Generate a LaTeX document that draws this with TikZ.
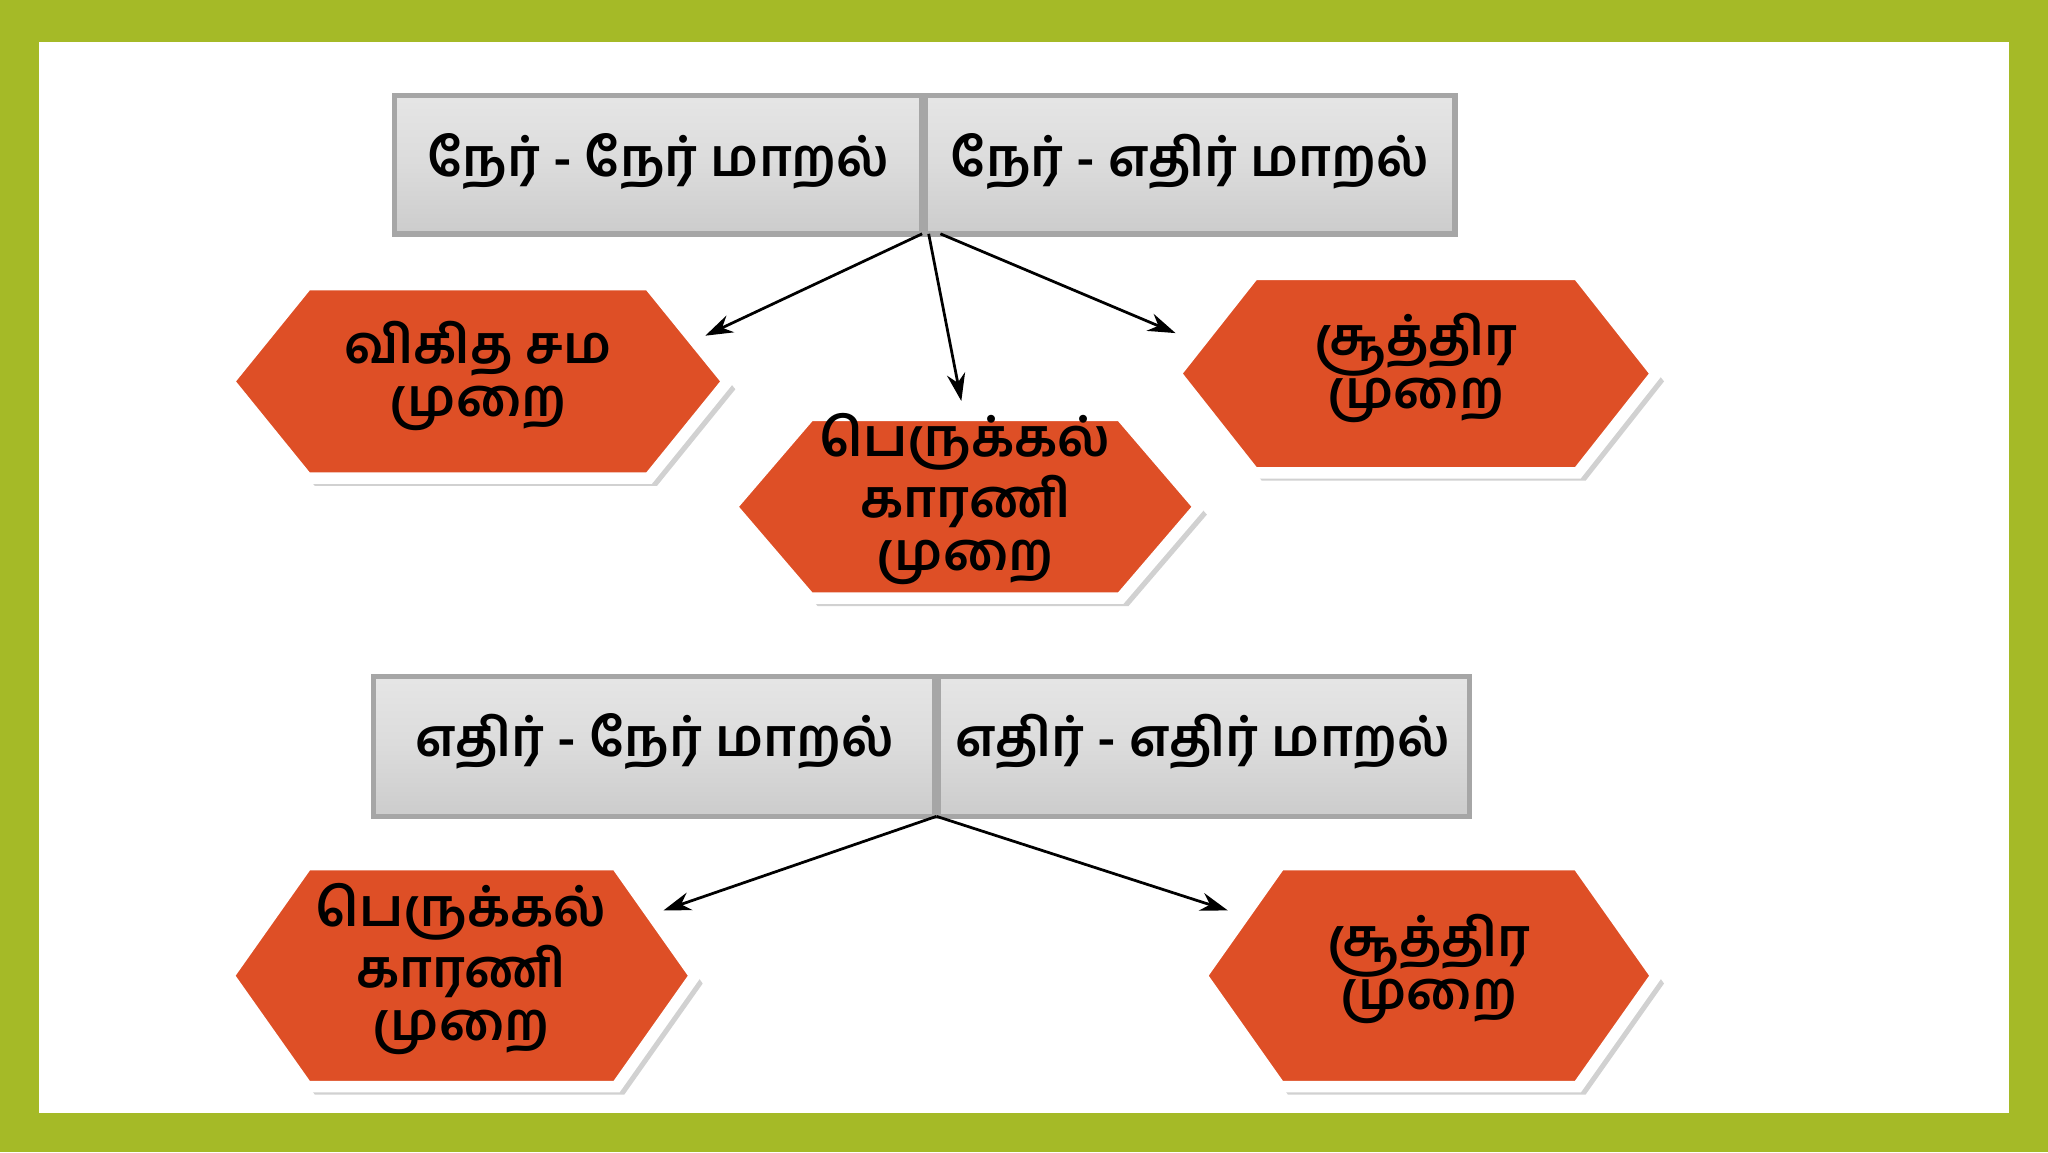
\documentclass[tikz,border=0pt]{standalone}
\usepackage{fontspec}
\newfontfamily\tam[Script=Tamil]{Hind Madurai}
\usetikzlibrary{arrows.meta}
\definecolor{frame}{HTML}{A5BA27}
\definecolor{hexor}{HTML}{DE4F26}
\tikzset{
  gbox/.style={draw=gray!70,line width=1.2pt,top color=gray!20,bottom color=gray!40,middle color=gray!28},
  hex/.style={fill=hexor,draw=white,line width=2.5pt},
  hsh/.style={fill=black,opacity=0.18},
  txt/.style={font=\tam\bfseries\fontsize{11.5}{11.5}\selectfont,align=center,inner sep=0pt},
  btxt/.style={font=\tam\bfseries\fontsize{11.5}{12}\selectfont,inner sep=0pt},
  arr/.style={-{Stealth[length=6pt,width=4pt]},line width=0.6pt}
}
\newcommand{\hexa}[5]{% name, x1, x2, ytop, ybot
  \pgfmathsetmacro{\ym}{(#4+#5)/2}
  \fill[hsh] (#2+0.06,-\ym-0.06) -- (#2+0.66,-#4-0.06) -- (#3-0.54,-#4-0.06) -- (#3+0.06,-\ym-0.06) -- (#3-0.54,-#5-0.06) -- (#2+0.66,-#5-0.06) -- cycle;
  \draw[hex] (#2,-\ym) -- (#2+0.6,-#4) -- (#3-0.6,-#4) -- (#3,-\ym) -- (#3-0.6,-#5) -- (#2+0.6,-#5) -- cycle;
}
\begin{document}
\begin{tikzpicture}[x=1cm,y=1cm]
\fill[frame] (0,0) rectangle (15.68,-8.82);
\fill[white] (0.30,-0.32) rectangle (15.38,-8.52);
% top boxes
\draw[gbox] (3.02,-0.73) rectangle (7.06,-1.79);
\draw[gbox] (7.08,-0.73) rectangle (11.14,-1.79);
\node[btxt] (b1) at (5.04,-1.24) {நேர் - நேர் மாறல்};
\node[btxt] (b2) at (9.11,-1.24) {நேர் - எதிர் மாறல்};
\coordinate (t1) at (7.06,-1.79);
\coordinate (t2) at (7.11,-1.79);
\coordinate (t3) at (7.20,-1.79);
% bottom boxes
\draw[gbox] (2.86,-5.18) rectangle (7.16,-6.25);
\draw[gbox] (7.18,-5.18) rectangle (11.25,-6.25);
\node[btxt] (b3) at (5.01,-5.68) {எதிர் - நேர் மாறல்};
\node[btxt] (b4) at (9.21,-5.68) {எதிர் - எதிர் மாறல்};
\coordinate (t4) at (7.17,-6.25);
% hexagons
\hexa{h1}{1.75}{5.57}{2.18}{3.66}
\hexa{h2}{5.60}{9.18}{3.18}{4.58}
\hexa{h3}{9.00}{12.68}{2.10}{3.62}
\hexa{h4}{1.75}{5.32}{6.62}{8.32}
\hexa{h5}{9.20}{12.68}{6.62}{8.32}
\node[txt] (n1) at (3.66,-2.88) {விகித சம\\முறை};
\node[txt] (n2) at (7.39,-3.82) {பெருக்கல்\\காரணி\\முறை};
\node[txt] (n3) at (10.84,-2.82) {சூத்திர\\முறை};
\node[txt] (n4) at (3.53,-7.42) {பெருக்கல்\\காரணி\\முறை};
\node[txt] (n5) at (10.94,-7.42) {சூத்திர\\முறை};
\coordinate (e1) at (5.40,-2.57);
\coordinate (e2) at (7.36,-3.07);
\coordinate (e3) at (9.00,-2.55);
\coordinate (e4) at (5.08,-6.97);
\coordinate (e5) at (9.40,-6.97);
\draw[arr] (t1) -- (e1);
\draw[arr] (t2) -- (e2);
\draw[arr] (t3) -- (e3);
\draw[arr] (t4) -- (e4);
\draw[arr] (t4) -- (e5);
\end{tikzpicture}
\end{document}
